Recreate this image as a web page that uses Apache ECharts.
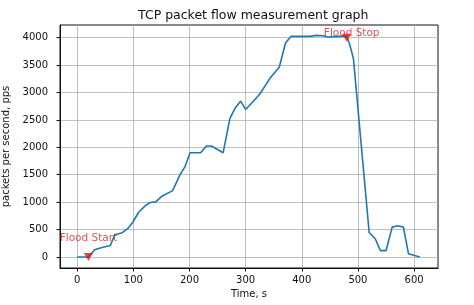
<!DOCTYPE html>
<html>
<head>
<meta charset="utf-8">
<script src="https://cdn.jsdelivr.net/npm/echarts@6/dist/echarts.min.js"></script>
<style>
  html, body { margin: 0; padding: 0; background: #fff; }
  #main { width: 474px; height: 305px; }
</style>
</head>
<body>
<div id="main"></div>
<script>
// time, s
var times = [0, 20, 31, 41, 59, 67, 79, 91, 100, 109, 121, 130, 140, 150, 170, 183, 192, 201, 220,
    230, 239, 260, 272, 282, 291, 300, 310, 325, 343, 360, 371, 381, 414, 426, 438, 446, 467, 480,
    485, 492, 520, 531, 540, 550, 561, 571, 581, 590, 610];
// packets per second
var pps = [0, 0, 133, 163, 211, 405, 436, 527, 647, 811, 933, 993, 1005, 1102, 1211, 1496, 1647, 1902, 1902,
    2024, 2024, 1902, 2527, 2727, 2842, 2691, 2800, 2969, 3254, 3465, 3902, 4024, 4024, 4042, 4036, 4012, 4024, 4024,
    3890, 3618, 447, 327, 115, 115, 545, 569, 545, 60, 0];

var markTimes = [20, 480];
var markValues = [0, 4000];
var markNames = ['Flood Start', 'Flood Stop'];

var xTicks = [0, 100, 200, 300, 400, 500, 600];
var yTicks = [0, 500, 1000, 1500, 2000, 2500, 3000, 3500, 4000];

var font = 'DejaVu Sans';

var lineData = times.map(function (t, i) { return [t, pps[i]]; });

// label placement per annotation
var labelOffsets = [[0, 0], [5, 5]];
var labelDist = [9, 0];
var markData = markTimes.map(function (t, i) {
    return {
        value: [t, markValues[i]],
        name: markNames[i],
        label: { offset: labelOffsets[i], distance: labelDist[i] }
    };
});

function plain(v) { return String(v); }

var myChart = echarts.init(document.getElementById('main'), null, { renderer: 'canvas' });
myChart.setOption({
    animation: false,
    title: {
        text: 'TCP packet flow measurement graph',
        left: 133,
        top: 4,
        textStyle: { fontFamily: font, fontSize: 12.5, fontWeight: 'normal', color: '#111' }
    },
    grid: {
        left: 60, right: 36, top: 25, bottom: 37,
        outerBoundsMode: 'none',
        containLabel: false,
        show: true, borderColor: '#111', borderWidth: 1
    },
    xAxis: {
        type: 'value',
        min: -30.6,
        max: 642.6,
        name: 'Time, s',
        nameLocation: 'middle',
        nameGap: 21,
        nameTextStyle: { fontFamily: font, fontSize: 10, color: '#111' },
        axisLine: { show: true, onZero: false, lineStyle: { color: '#111' } },
        axisTick: { show: true, length: 3.5, customValues: xTicks, lineStyle: { color: '#111' } },
        axisLabel: { customValues: xTicks, formatter: plain, margin: 7, fontFamily: font, fontSize: 10, color: '#111' },
        splitLine: { show: true, lineStyle: { color: '#b0b0b0', width: 0.8 } }
    },
    yAxis: {
        type: 'value',
        min: -201,
        max: 4231,
        name: 'packets per second, pps',
        nameLocation: 'middle',
        nameGap: 38,
        nameTextStyle: { fontFamily: font, fontSize: 10, color: '#111' },
        axisLine: { show: true, onZero: false, lineStyle: { color: '#111' } },
        axisTick: { show: true, length: 3.5, customValues: yTicks, lineStyle: { color: '#111' } },
        axisLabel: { customValues: yTicks, formatter: plain, margin: 12, fontFamily: font, fontSize: 10, color: '#111' },
        splitLine: { show: true, lineStyle: { color: '#b0b0b0', width: 0.8 } }
    },
    series: [
        {
            name: 'pps',
            type: 'line',
            data: lineData,
            showSymbol: false,
            lineStyle: { color: '#1f77b4', width: 1.6 },
            z: 3
        },
        {
            name: 'events',
            type: 'scatter',
            data: markData,
            symbol: 'triangle',
            symbolRotate: 180,
            symbolSize: [9, 8],
            itemStyle: { color: '#e8101a' },
            label: {
                show: true,
                position: 'top',
                formatter: '{b}',
                fontFamily: font,
                fontSize: 10.5,
                color: '#d62728'
            },
            z: 4
        }
    ]
});
</script>
</body>
</html>
